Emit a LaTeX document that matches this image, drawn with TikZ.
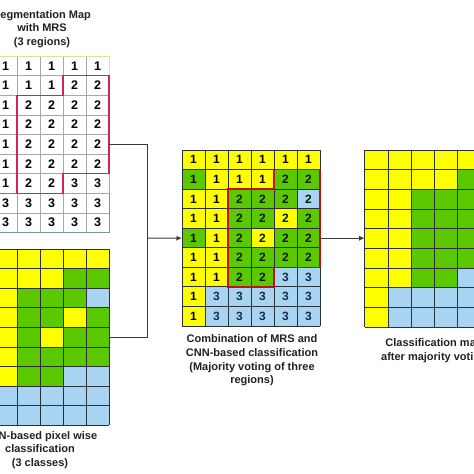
\documentclass[tikz,border=0pt]{standalone}
\usepackage{fontspec}
\setmainfont{Liberation Sans}
\usetikzlibrary{arrows.meta}
\definecolor{cy}{HTML}{FFFF00}
\definecolor{cg}{HTML}{5CC800}
\definecolor{cb}{HTML}{A8D4F2}
\definecolor{txt}{HTML}{222222}
\definecolor{mrsline}{HTML}{A4A8AC}
\definecolor{regred}{HTML}{D2245A}
\definecolor{regredb}{HTML}{C01010}
\definecolor{regblue}{HTML}{5A84B2}
\definecolor{regyel}{HTML}{E6E092}
\definecolor{conn}{HTML}{3A3A3A}
\definecolor{darkthree}{HTML}{1B2A48}
\definecolor{gridd}{HTML}{2A3038}
\colorlet{cY}{cy}
\colorlet{cG}{cg}
\colorlet{cB}{cb}
\colorlet{n1}{black}
\colorlet{n2}{black!90!green}
\colorlet{n3}{darkthree}
\colorlet{r1}{cy}
\colorlet{r2}{cg}
\colorlet{r3}{cb}
\newcommand\drawgridlines[6]{% x0,y0,w,h,style
  \foreach \i in {0,...,6} \draw[#5] ({#1+\i*#3},#2) -- ++(0,{9*#4});
  \foreach \j in {0,...,9} \draw[#5] (#1,{#2+\j*#4}) -- ++({6*#3},0);
}
\def\mrsdata{{1,1,1,1,1,1},{1,1,1,1,2,2},{1,1,2,2,2,2},{1,1,2,2,2,2},{1,1,2,2,2,2},{1,1,2,2,2,2},{1,1,2,2,3,3},{1,3,3,3,3,3},{1,3,3,3,3,3}}
\def\cnndata{{Y,Y,Y,Y,Y,Y},{G,Y,Y,Y,G,G},{Y,Y,G,G,G,B},{Y,Y,G,G,Y,G},{G,Y,G,Y,G,G},{Y,Y,G,G,G,G},{Y,Y,G,G,B,B},{Y,B,B,B,B,B},{Y,B,B,B,B,B}}
\def\combdata{{Y/1,Y/1,Y/1,Y/1,Y/1,Y/1},{G/1,Y/1,Y/1,Y/1,G/2,G/2},{Y/1,Y/1,G/2,G/2,G/2,B/2},{Y/1,Y/1,G/2,G/2,Y/2,G/2},{G/1,Y/1,G/2,Y/2,G/2,G/2},{Y/1,Y/1,G/2,G/2,G/2,G/2},{Y/1,Y/1,G/2,G/2,B/3,B/3},{Y/1,B/3,B/3,B/3,B/3,B/3},{Y/1,B/3,B/3,B/3,B/3,B/3}}
\begin{document}
\begin{tikzpicture}[x=1pt,y=-1pt,
  lbl/.style={text=txt,align=center,font=\bfseries\fontsize{11}{13.7}\selectfont,inner sep=0pt},
  num/.style={font=\bfseries\fontsize{12}{12}\selectfont,inner sep=0pt},
  bignum/.style={font=\bfseries\fontsize{12.5}{12.5}\selectfont,inner sep=0pt},
  gridbox/.style={draw=none,inner sep=0pt,anchor=north west},
  mrsgrid/.style={draw=mrsline,line width=0.6pt},
  darkgrid/.style={draw=gridd,line width=0.8pt},
  connline/.style={draw=conn,line width=1pt},
  arr/.style={connline,-{Latex[length=5.5pt,width=5pt]}}]
\useasboundingbox (0,0) rectangle (474,474);
\clip (0,0) rectangle (474,474);
\fill[white] (0,0) rectangle (474,474);

% ---------- MRS segmentation map ----------
\node[gridbox,minimum width=138pt,minimum height=176.4pt] (mrs) at (-29,56) {};
\foreach \rowd [count=\r] in \mrsdata {
  \foreach \v [count=\c] in \rowd {
    \node[bignum,text=black] (mrs-\r-\c) at ({-29+(\c-0.5)*23},{56+(\r-0.5)*19.6}) {\v};
  }
}
\drawgridlines{-29}{56}{23}{19.6}{mrsgrid}{}
\begin{scope}[shift={(-29,56)},x=23pt,y=-19.6pt]
  \draw[regyel,line width=1pt] (0,0) -- (6,0) -- (6,1);
  \draw[regblue,line width=0.9pt] (1,9) -- (1,7) -- (4,7);
  \draw[regblue!60!mrsline,line width=0.8pt] (6,7) -- (6,9) -- (1,9);
  \draw[regred,line width=1.3pt] (4,1) -- (6,1) -- (6,6) -- (4,6) -- (4,7) -- (2,7) -- (2,2) -- (4,2) -- cycle;
\end{scope}
\node[lbl] (t-mrs) at (42,29) {Segmentation Map\\with MRS\\(3 regions)};

% ---------- CNN pixel-wise ----------
\node[gridbox,minimum width=138pt,minimum height=176.4pt] (cnn) at (-29,249) {};
\foreach \rowd [count=\r] in \cnndata {
  \foreach \v [count=\c] in \rowd {
    \fill[c\v] ({-29+(\c-1)*23},{249+(\r-1)*19.6}) rectangle ++(23,19.6);
  }
}
\drawgridlines{-29}{249}{23}{19.6}{darkgrid,line width=0.9pt}{}
\node[lbl] (t-cnn) at (40,450) {CNN-based pixel wise\\classification\\(3 classes)};

% ---------- Combination ----------
\node[gridbox,minimum width=138pt,minimum height=176pt] (comb) at (182,150) {};
\foreach \rowd [count=\r] in \combdata {
  \foreach \cl/\v [count=\c] in \rowd {
    \fill[c\cl] ({182+(\c-1)*23},{150+(\r-1)*19.556}) rectangle ++(23,19.556);
    \node[num,text=n\v] (comb-\r-\c) at ({182+(\c-0.5)*23},{150+(\r-0.5)*19.556}) {\v};
  }
}
\drawgridlines{182}{150}{23}{19.556}{darkgrid}{}
\begin{scope}[shift={(182,150)},x=23pt,y=-19.556pt]
  \draw[regredb,line width=1.4pt] (4,1) -- (6,1) -- (6,6) -- (4,6) -- (4,7) -- (2,7) -- (2,2) -- (4,2) -- cycle;
\end{scope}
\node[lbl] (t-comb) at (252,360.5) {Combination of MRS and\\CNN-based classification\\(Majority voting of three\\regions)};

% ---------- Result ----------
\node[gridbox,minimum width=139.8pt,minimum height=177pt] (res) at (364.7,150) {};
\foreach \rowd [count=\r] in \mrsdata {
  \foreach \v [count=\c] in \rowd {
    \fill[r\v] ({364.7+(\c-1)*23.3},{150+(\r-1)*19.667}) rectangle ++(23.3,19.667);
  }
}
\drawgridlines{364.7}{150}{23.3}{19.667}{darkgrid,line width=0.9pt}{}
\node[lbl] (t-res) at (434,351) {Classification map\\after majority voting};

% ---------- Connectors ----------
\coordinate (j) at (147,238);
\draw[connline] (mrs.east) -| (j);
\draw[connline] (cnn.east) -| (j);
\draw[arr] (j) -- (comb.west);
\draw[arr] (comb.east) -- (res.west |- comb.east);
\end{tikzpicture}
\end{document}
